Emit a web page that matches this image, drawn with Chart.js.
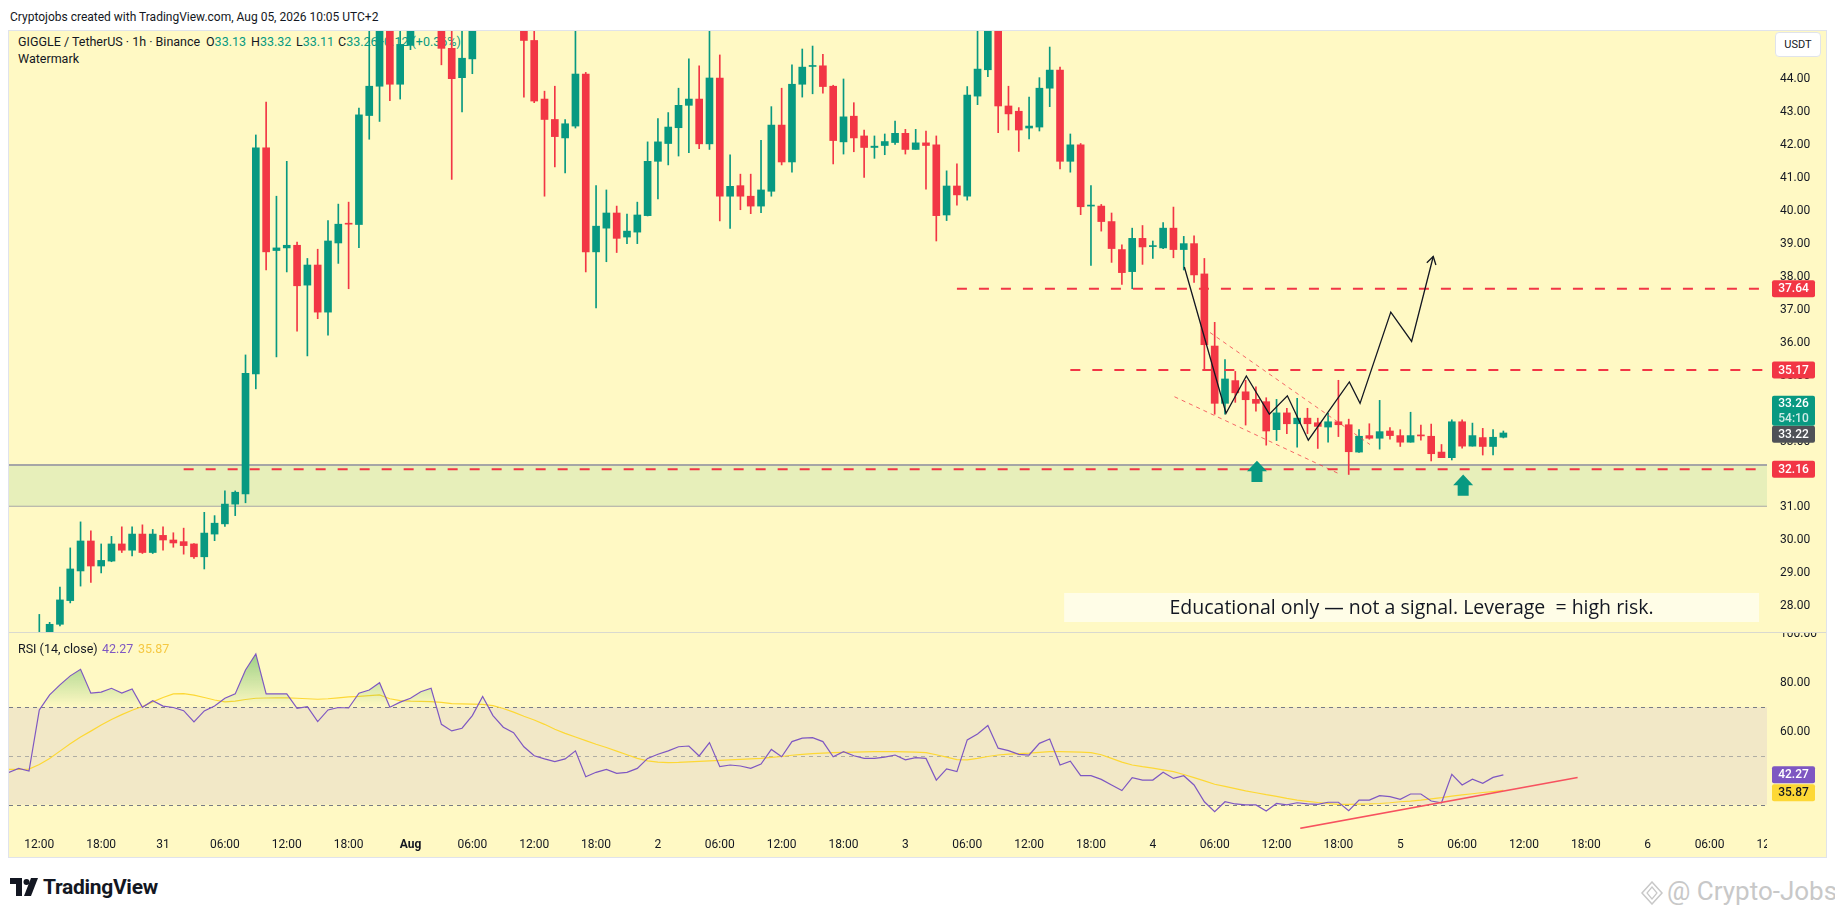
<!DOCTYPE html>
<html><head><meta charset="utf-8">
<script src="https://cdn.jsdelivr.net/npm/chart.js@4.4.1/dist/chart.umd.min.js"></script>
<style>
html,body{margin:0;padding:0;background:#fff;}
body{width:1835px;height:917px;position:relative;overflow:hidden;font-family:Roboto,"Noto Sans",sans-serif;color:#131722;}
#caption{position:absolute;left:10px;top:8px;font-size:12px;line-height:18px;white-space:nowrap;}
#frame{position:absolute;left:8px;top:30px;width:1817px;height:826px;background:#fff9c4;border:1px solid #e0e3eb;}
#c1{position:absolute;left:0;top:0;z-index:2;}
#sep{position:absolute;left:0;top:601px;width:1817px;height:1px;background:#d9d9cf;z-index:3;}
#c2{position:absolute;left:0;top:602px;z-index:2;}
.t{position:absolute;white-space:nowrap;font-size:12.5px;line-height:16px;z-index:1;}
.g{color:#089981;}
#usdt{position:absolute;left:1766px;top:1px;width:44px;height:23px;background:#fff;border:1px solid #e0e3eb;border-radius:4px;font-size:11px;line-height:23px;text-align:center;z-index:4;}
.r{position:absolute;top:610px;font-size:12.5px;line-height:16px;z-index:4;white-space:nowrap;}
#logo{position:absolute;left:10px;top:876px;}
#tvtext{position:absolute;left:43px;top:874px;font-size:21px;font-weight:bold;line-height:26px;letter-spacing:-0.3px;color:#131722;}
#wm{position:absolute;left:1667px;top:874px;font-size:26px;line-height:34px;color:#c8c8c8;white-space:nowrap;}
#wmicon{position:absolute;left:1640px;top:881px;}
</style></head>
<body>
<div id="caption">Cryptojobs created with TradingView.com, Aug 05, 2026 10:05 UTC+2</div>
<div id="frame">
  <div class="t" style="left:9px;top:3px;">GIGGLE / TetherUS · 1h · Binance</div>
  <div class="t" style="left:197px;top:3px;">O<span class="g">33.13</span></div>
  <div class="t" style="left:242px;top:3px;">H<span class="g">33.32</span></div>
  <div class="t" style="left:287px;top:3px;">L<span class="g">33.11</span></div>
  <div class="t" style="left:329px;top:3px;">C<span class="g">33.26</span></div>
  <div class="t g" style="left:368px;top:3px;">+0.12 (+0.36%)</div>
  <div class="t" style="left:9px;top:20px;">Watermark</div>
  <canvas id="c1" width="1817" height="601"></canvas>
  <div id="usdt">USDT</div>
  <div id="sep"></div>
  <canvas id="c2" width="1817" height="224"></canvas>
  <div class="r" style="left:9px;">RSI (14, close)</div>
  <div class="r" style="left:93px;color:#7e57c2">42.27</div>
  <div class="r" style="left:129px;color:#f5c842">35.87</div>
</div>
<svg id="logo" width="30" height="22" viewBox="0 0 30 22">
  <path d="M0 2h12v18H6V8H0z" fill="#131722"/>
  <circle cx="16.5" cy="6" r="3" fill="#131722"/>
  <path d="M21 2h7l-7 18h-7z" fill="#131722"/>
</svg>
<div id="tvtext">TradingView</div>
<svg id="wmicon" width="24" height="24" viewBox="0 0 24 24"><path d="M12 1L22 12L12 23L2 12Z" fill="none" stroke="#c8c8c8" stroke-width="1.5"/><path d="M12 6L17 12L12 18L7 12Z" fill="none" stroke="#c8c8c8" stroke-width="1.2"/></svg>
<div id="wm">@ Crypto-Jobs</div>

<script>
// ---------- DATA ----------
const FIRST_HOUR = -3; // index of first candle (hours from Jul 30 12:00)
const opens = [25.7,25.8,25.9,
 25.85,27.15,27.45,28.17,29.07,29.98,29.22,29.37,29.89,29.70,
 30.19,29.63,30.15,30.01,29.96,29.89,29.50,30.19,30.50,31.10,
 31.41,35.05,41.92,38.80,38.88,38.96,37.75,38.36,36.93,39.03,
 39.63,39.59,42.90,43.79,46.00,43.85,45.03,45.95,46.30,46.20,
 44.94,44.05,44.62,45.80,47.00,46.50,46.00,45.90,45.18,43.40,
 42.78,42.22,42.58,44.16,38.76,39.48,39.94,39.21,39.36,39.86,
 41.51,42.05,42.53,43.21,43.40,42.04,44.04,40.45,40.77,40.45,
 40.15,40.60,42.61,41.49,43.85,44.39,44.41,43.79,42.10,42.88,
 42.28,41.93,41.99,42.08,42.36,41.87,42.07,42.01,39.88,40.76,
 40.45,43.49,44.29,45.47,43.19,43.03,42.52,42.55,43.73,44.28,
 41.51,42.01,40.15,40.15,39.68,38.83,38.16,39.17,38.92,38.88,
 39.48,38.83,39.01,38.09,35.90,34.16,34.85,34.51,34.28,34.21,
 33.36,33.87,33.54,33.71,33.57,33.44,33.60,33.51,32.68,33.18,
 33.10,33.32,33.18,32.98,33.19,33.16,32.68,32.51,33.60,32.86,
 33.12,32.85,33.13];
const highs = [25.95,26.0,26.05,
 27.75,27.51,28.58,29.77,30.56,30.29,29.89,30.12,30.41,30.41,
 30.47,30.33,30.41,30.23,30.37,29.90,30.85,30.75,31.50,31.50,
 35.63,42.31,43.31,40.45,41.51,39.06,38.56,38.84,39.71,40.21,
 40.27,43.13,45.60,46.10,46.30,45.60,46.20,46.60,46.90,46.50,
 45.60,45.60,46.00,47.30,47.20,46.70,46.40,46.10,45.80,43.64,
 43.79,42.78,45.70,44.21,40.77,40.64,40.15,39.91,40.27,42.10,
 42.81,42.99,43.73,44.62,44.41,45.59,44.74,41.71,41.12,41.12,
 42.15,43.17,43.73,44.44,44.92,45.01,44.76,43.82,44.01,43.29,
 42.46,42.28,42.34,42.73,42.48,42.48,42.43,42.28,41.22,41.43,
 43.78,45.59,45.80,45.59,43.79,43.14,43.46,44.05,44.98,44.37,
 42.34,42.05,40.77,40.20,39.94,38.97,39.48,39.56,39.09,39.65,
 40.12,39.23,39.25,38.56,36.62,35.49,35.13,34.86,34.66,34.33,
 34.28,34.01,34.31,34.01,33.71,33.86,34.86,33.68,33.36,33.54,
 34.25,33.42,33.36,33.89,33.50,33.53,32.91,33.66,33.66,33.56,
 33.40,33.36,33.32];
const lows = [25.55,25.6,25.7,
 25.80,27.05,27.40,28.10,28.61,28.72,29.01,29.35,29.63,29.53,
 29.60,29.60,29.70,29.79,29.58,29.45,29.13,29.99,30.42,30.75,
 31.14,34.60,38.21,35.57,38.15,36.35,35.60,36.73,36.23,38.41,
 37.64,38.89,42.18,42.72,43.35,43.40,44.90,45.50,45.80,44.44,
 40.96,43.01,44.17,45.60,46.20,45.80,45.70,43.46,43.29,40.45,
 41.34,41.16,42.52,38.15,37.06,38.46,38.74,39.01,39.01,39.85,
 40.37,41.40,41.67,41.77,41.89,41.87,39.70,39.47,40.04,39.92,
 39.95,40.45,41.40,41.18,43.46,43.56,43.58,41.43,41.73,41.80,
 41.02,41.60,41.71,42.02,41.73,41.87,40.66,39.09,39.71,40.18,
 40.33,43.23,44.08,42.38,42.46,41.81,42.19,42.43,43.17,41.28,
 41.18,39.89,38.35,39.39,38.44,37.77,37.64,38.38,38.56,38.86,
 38.58,38.21,37.83,35.16,33.83,33.83,34.19,33.50,33.92,32.89,
 33.03,33.24,32.83,33.24,32.79,32.98,33.15,32.00,32.67,33.07,
 32.77,33.07,32.85,32.98,33.04,32.41,32.51,32.44,32.80,32.86,
 32.59,32.59,33.11];
const closes = [25.8,25.9,25.85,
 27.15,27.45,28.19,29.13,29.98,29.22,29.39,29.89,29.70,30.19,
 29.63,30.19,30.01,29.92,29.84,29.50,30.22,30.52,31.10,31.46,
 35.07,41.92,38.76,38.88,38.96,37.73,38.36,36.93,39.09,39.60,
 39.60,42.92,43.79,45.90,43.85,45.06,45.90,46.30,46.50,44.94,
 44.02,44.64,45.80,47.00,46.50,46.00,45.90,45.18,43.34,42.78,
 42.26,42.65,44.16,38.76,39.54,39.94,39.17,39.39,39.88,41.51,
 42.10,42.55,43.21,43.40,42.04,44.04,40.45,40.75,40.45,40.15,
 40.64,42.61,41.49,43.85,44.37,44.41,43.78,42.14,42.86,42.22,
 41.93,41.97,42.11,42.36,41.87,42.07,41.99,39.86,40.76,40.49,
 43.52,44.31,45.51,43.19,42.95,42.46,42.58,43.73,44.28,41.51,
 42.01,40.13,40.17,39.68,38.86,38.13,39.17,38.91,38.94,39.48,
 38.83,39.01,38.06,35.94,34.16,34.90,34.48,34.27,34.16,33.32,
 33.87,33.54,33.71,33.54,33.46,33.60,33.51,32.69,33.16,33.10,
 33.30,33.18,32.98,33.18,33.17,32.63,32.51,33.60,32.86,33.18,
 32.85,33.13,33.26];
const rsiValues = [43.2,44.9,43.8,
 68.9,75.1,79.2,82.9,85.6,75.8,76.2,77.8,75.8,77.5,
 70.0,72.7,70.5,69.9,68.6,64.0,68.5,70.5,73.7,75.5,
 85.3,91.9,75.5,75.5,75.5,69.6,70.3,64.1,68.9,69.9,
 69.7,75.8,77.1,80.1,70.0,72.1,73.7,76.4,77.8,63.0,
 60.3,61.4,66.6,74.4,66.6,61.8,59.6,53.8,50.1,48.8,
 47.7,48.8,52.1,41.5,43.3,44.5,42.9,43.3,44.9,49.0,
 50.7,52.1,53.8,54.1,50.0,55.5,45.6,46.3,45.9,44.9,
 46.7,52.7,49.7,55.9,57.3,57.5,55.9,49.7,51.8,50.1,
 49.0,49.0,49.5,50.4,48.4,49.3,49.0,40.1,44.7,43.6,
 56.6,59.0,62.5,53.2,52.2,50.7,50.4,55.2,57.0,46.3,
 47.9,41.9,41.9,40.4,38.1,35.8,41.1,40.1,40.1,43.3,
 40.8,41.9,38.1,31.2,27.1,31.2,30.3,29.9,29.9,27.4,
 30.5,29.9,30.8,30.3,30.1,31.0,31.0,27.5,31.9,31.9,
 33.7,33.3,32.2,34.4,34.4,31.5,30.8,42.5,38.1,40.5,
 38.8,41.2,42.27];
const rsiMaValues = [44.5,44.5,44.6,
 46.5,49.0,52.0,55.0,57.8,60.2,62.7,65.0,67.0,68.8,
 70.3,72.2,74.0,75.5,75.6,75.0,74.0,73.0,72.2,72.5,
 73.2,73.7,73.8,73.9,73.9,73.7,73.5,73.3,73.5,73.9,
 74.3,74.5,74.8,75.1,73.5,72.7,72.5,72.4,72.3,72.0,
 71.5,71.4,71.3,71.2,70.7,69.5,68.0,66.3,64.8,63.0,
 61.0,59.3,57.8,56.3,54.8,53.5,52.0,50.5,49.0,48.0,
 47.5,47.3,47.4,47.6,47.8,48.0,48.2,48.4,48.6,48.8,
 49.0,49.4,49.8,50.3,50.7,51.0,51.2,51.4,51.5,51.6,
 51.7,51.8,51.8,51.8,51.7,51.6,51.4,50.5,49.5,48.5,
 48.4,49.0,49.8,50.4,50.8,51.0,51.2,51.5,51.8,51.8,
 51.7,51.6,51.4,50.5,49.0,47.5,46.3,45.6,45.0,44.3,
 43.6,42.4,41.1,39.8,38.4,37.5,36.6,35.7,34.9,34.1,
 33.4,32.6,31.9,31.4,30.9,30.5,30.1,30.1,30.2,30.3,
 30.5,30.8,31.2,31.5,31.9,32.4,32.9,33.5,34.0,34.5,
 35.0,35.4,35.87];
const timeTickHours = [0,6,12,18,24,30,36,42,48,54,60,66,72,78,84,90,96,102,108,114,120,126,132,138,144,150,156,162,168];
const timeLabels = ['12:00','18:00','31','06:00','12:00','18:00','Aug','06:00','12:00','18:00','2','06:00','12:00','18:00','3','06:00','12:00','18:00','4','06:00','12:00','18:00','5','06:00','12:00','18:00','6','06:00','12:00'];
const priceTicks = [28,29,30,31,32,33,34,35,36,37,38,39,40,41,42,43,44];
const rsiTicks = [100,80,60];
// horizontal levels
const levelPrices = [37.64, 35.17, 32.16];
const levelStartHours = [89.0, 100.0, 14.0];
const zoneTop = 32.29, zoneBottom = 31.05;
// drawing: zigzag projection path
const pathHours = [111.06,115.1,117.07,119.3,121.05,123.08,127.06,128.1,131.08,133.1,135.2];
const pathPrices = [38.3,33.86,34.99,33.83,34.39,33.04,34.81,34.16,36.93,36.04,38.62];
// falling channel (dashed)
const channelUpperHours = [113.55,129.06], channelUpperPrices = [36.31,32.91];
const channelLowerHours = [110.1,126.0], channelLowerPrices = [34.36,32.03];
// green arrows
const arrowHours = [118.1,138.1], arrowTips = [32.42,32.0], arrowBases = [31.77,31.35];
// RSI trend line
const rsiTrendHours = [122.3,149.2], rsiTrendValues = [20.3,41.2];
// axis labels
const lastPrice = 33.26, prevPrice = 33.22, countdown = '54:10';
const rsiLast = 42.27, rsiMaLast = 35.87;
const noteText = 'Educational only \u2014 not a signal. Leverage  = high risk.';
const noteBox = {h0:99.4, h1:166.8, p0:28.40, p1:27.52, hc:133.1};

// ---------- LAYOUT CONSTANTS ----------
const X_MIN = -2.94, X_MAX = 167.57;
const P_MIN = 27.216, P_MAX = 45.467;
const R_MIN = 20.02, R_MAX = 100.5;
const UP = '#089981', DOWN = '#f23645';
const FONT = 'Roboto, "Noto Sans", sans-serif';
const AXIS_W = 59;

const hours = opens.map((_, k) => FIRST_HOUR + k);
const candleColors = opens.map((o, k) => closes[k] >= o ? UP : DOWN);

function labelBox(ctx, x, y, w, h, fill, lines, color) {
  ctx.fillStyle = fill;
  ctx.beginPath();
  if (ctx.roundRect) ctx.roundRect(x, y, w, h, 2); else ctx.rect(x, y, w, h);
  ctx.fill();
  ctx.fillStyle = color;
  ctx.textAlign = 'center'; ctx.textBaseline = 'middle';
  ctx.font = '500 12px ' + FONT;
  const lh = h / lines.length;
  lines.forEach((t, k) => {
    if (k > 0) { ctx.fillStyle = 'rgba(255,255,255,0.8)'; }
    ctx.fillText(t, x + w / 2, y + lh * k + lh / 2 + 0.5);
  });
}

const mainOverlay = {
  id: 'mainOverlay',
  afterDatasetsDraw(chart) {
    const {ctx, chartArea: a} = chart;
    const x = chart.scales.x, y = chart.scales.y;
    ctx.save();
    ctx.beginPath(); ctx.rect(a.left, a.top, a.width, a.height); ctx.clip();
    const n = pathHours.length;
    const ex = x.getPixelForValue(pathHours[n-1]), ey = y.getPixelForValue(pathPrices[n-1]);
    const sx = x.getPixelForValue(pathHours[n-2]), sy = y.getPixelForValue(pathPrices[n-2]);
    const ang = Math.atan2(ey - sy, ex - sx);
    ctx.strokeStyle = '#131722'; ctx.lineWidth = 1.3;
    ctx.beginPath();
    ctx.moveTo(ex - 9 * Math.cos(ang - 0.55), ey - 9 * Math.sin(ang - 0.55));
    ctx.lineTo(ex, ey);
    ctx.lineTo(ex - 9 * Math.cos(ang + 0.55), ey - 9 * Math.sin(ang + 0.55));
    ctx.stroke();
    ctx.fillStyle = UP;
    arrowHours.forEach((hv, k) => {
      const cx = x.getPixelForValue(hv), ty = y.getPixelForValue(arrowTips[k]), by = y.getPixelForValue(arrowBases[k]);
      const hh = (by - ty) * 0.5;
      ctx.beginPath();
      ctx.moveTo(cx, ty); ctx.lineTo(cx + 10, ty + hh); ctx.lineTo(cx + 5.5, ty + hh);
      ctx.lineTo(cx + 5.5, by); ctx.lineTo(cx - 5.5, by); ctx.lineTo(cx - 5.5, ty + hh);
      ctx.lineTo(cx - 10, ty + hh); ctx.closePath(); ctx.fill();
    });
    const bx0 = x.getPixelForValue(noteBox.h0), bx1 = x.getPixelForValue(noteBox.h1);
    const by0 = y.getPixelForValue(noteBox.p0), by1 = y.getPixelForValue(noteBox.p1);
    ctx.fillStyle = 'rgba(255,255,255,0.6)';
    ctx.fillRect(bx0, by0, bx1 - bx0, by1 - by0);
    ctx.fillStyle = '#131722';
    ctx.font = '19.5px "Open Sans", sans-serif';
    ctx.textAlign = 'center'; ctx.textBaseline = 'middle';
    ctx.fillText(noteText, x.getPixelForValue(noteBox.hc), (by0 + by1) / 2 + 1);
    ctx.restore();
  },
  afterDraw(chart) {
    const {ctx, chartArea: a} = chart;
    const y = chart.scales.y;
    const bx = a.right + 5, bw = 43, bh = 17;
    ctx.save();
    levelPrices.forEach(p => {
      const py = y.getPixelForValue(p);
      labelBox(ctx, bx, py - bh / 2, bw, bh, DOWN, [p.toFixed(2)], '#fff');
    });
    const dy = y.getPixelForValue(prevPrice);
    labelBox(ctx, bx, dy - bh / 2, bw, bh, '#4f5157', [prevPrice.toFixed(2)], '#fff');
    labelBox(ctx, bx, dy - bh / 2 - 30, bw, 30, UP, [lastPrice.toFixed(2), countdown], '#fff');
    ctx.restore();
  }
};

const rsiOverlay = {
  id: 'rsiOverlay',
  beforeDatasetsDraw(chart) {
    const {ctx, chartArea: a} = chart;
    const y = chart.scales.y;
    const y70 = y.getPixelForValue(70), y30 = y.getPixelForValue(30), y50 = y.getPixelForValue(50);
    ctx.save();
    ctx.fillStyle = '#f2e8c7';
    ctx.fillRect(a.left, y70, a.width, y30 - y70);
    ctx.lineWidth = 1;
    ctx.setLineDash([4, 4]);
    [[y70, '#787b86'], [y50, 'rgba(120,123,134,0.55)'], [y30, '#787b86']].forEach(([yy, c]) => {
      ctx.strokeStyle = c;
      ctx.beginPath(); ctx.moveTo(a.left, Math.round(yy) + 0.5); ctx.lineTo(a.right, Math.round(yy) + 0.5); ctx.stroke();
    });
    ctx.restore();
  },
  afterDraw(chart) {
    const {ctx, chartArea: a, width, height} = chart;
    const y = chart.scales.y;
    ctx.save();
    ctx.fillStyle = '#fff9c4';
    ctx.fillRect(a.right, a.bottom, width - a.right, height - a.bottom);
    const bx = a.right + 5, bw = 43, bh = 17;
    const py = y.getPixelForValue(rsiLast);
    labelBox(ctx, bx, py - bh / 2, bw, bh, '#7e57c2', [rsiLast.toFixed(2)], '#fff');
    labelBox(ctx, bx, py + bh / 2 + 1, bw, bh, '#fdd835', [rsiMaLast.toFixed(2)], '#131722');
    ctx.restore();
  }
};

function hLine(hStart, price, color, width, dash, order) {
  return {type: 'line', data: [{x: hStart, y: price}, {x: X_MAX, y: price}], borderColor: color,
    borderWidth: width, borderDash: dash, pointRadius: 0, fill: false, order: order};
}
function pts(hs, vs) { return hs.map((h, k) => ({x: h, y: vs[k]})); }

const yAxisCommon = (min, max, ticksArr) => ({
  position: 'right', min: min, max: max,
  grid: {display: false, drawTicks: false}, border: {display: false},
  afterBuildTicks: s => { s.ticks = ticksArr.map(v => ({value: v})); },
  afterFit: s => { s.width = AXIS_W; s.paddingTop = 0; s.paddingBottom = 0; },
  ticks: {padding: 13, color: '#131722', font: {size: 12, family: FONT}, callback: v => Number(v).toFixed(2)}
});

new Chart(document.getElementById('c1'), {
  type: 'bar',
  data: {
    datasets: [
      {type: 'line', data: [{x: X_MIN, y: zoneTop}, {x: X_MAX, y: zoneTop}], borderColor: '#a6a6a6', borderWidth: 2,
        pointRadius: 0, fill: '+1', backgroundColor: '#e7efba', order: 20},
      {type: 'line', data: [{x: X_MIN, y: zoneBottom}, {x: X_MAX, y: zoneBottom}], borderColor: '#a6a6a6', borderWidth: 2,
        pointRadius: 0, fill: false, order: 20},
      {type: 'bar', data: hours.map((h, k) => ({x: h, y: [lows[k], highs[k]]})), backgroundColor: candleColors,
        barThickness: 1, grouped: false, borderWidth: 0, order: 10},
      {type: 'bar', data: hours.map((h, k) => ({x: h, y: [opens[k], closes[k]]})), backgroundColor: candleColors,
        barThickness: 7, minBarLength: 1, grouped: false, borderWidth: 0, order: 9},
      ...levelPrices.map((p, k) => hLine(levelStartHours[k], p, '#f23645', 2, [10, 12], 5)),
      {type: 'line', data: pts(channelUpperHours, channelUpperPrices), borderColor: 'rgba(242,54,69,0.75)', borderWidth: 1,
        borderDash: [4, 4], pointRadius: 0, fill: false, order: 4},
      {type: 'line', data: pts(channelLowerHours, channelLowerPrices), borderColor: 'rgba(242,54,69,0.75)', borderWidth: 1,
        borderDash: [4, 4], pointRadius: 0, fill: false, order: 4},
      {type: 'line', data: pts(pathHours, pathPrices), borderColor: '#131722', borderWidth: 1.3, pointRadius: 0,
        fill: false, tension: 0, order: 1}
    ]
  },
  options: {
    responsive: false, animation: false, events: [],
    layout: {padding: 0},
    plugins: {legend: {display: false}, tooltip: {enabled: false}},
    scales: {
      x: {type: 'linear', min: X_MIN, max: X_MAX, display: false, offset: false},
      y: yAxisCommon(P_MIN, P_MAX, priceTicks)
    }
  },
  plugins: [mainOverlay]
});

new Chart(document.getElementById('c2'), {
  type: 'line',
  data: {
    datasets: [
      {data: pts(rsiTrendHours, rsiTrendValues), borderColor: '#f7525f', borderWidth: 1.6, pointRadius: 0, fill: false, order: 0},
      {data: pts(hours, rsiValues), borderColor: '#7e57c2', borderWidth: 1.2, pointRadius: 0, tension: 0,
        fill: {target: {value: 70}, below: 'rgba(0,0,0,0)'},
        backgroundColor: (c) => {
          const ch = c.chart;
          if (!ch.chartArea) return 'rgba(0,0,0,0)';
          const yy = ch.scales.y;
          const g = ch.ctx.createLinearGradient(0, yy.getPixelForValue(100), 0, yy.getPixelForValue(70));
          g.addColorStop(0, 'rgba(76,175,80,0.75)');
          g.addColorStop(1, 'rgba(76,175,80,0)');
          return g;
        }, order: 2},
      {data: pts(hours, rsiMaValues), borderColor: '#fdd835', borderWidth: 1.2, pointRadius: 0, tension: 0, fill: false, order: 3}
    ]
  },
  options: {
    responsive: false, animation: false, events: [],
    layout: {padding: 0},
    plugins: {legend: {display: false}, tooltip: {enabled: false}},
    scales: {
      x: {type: 'linear', min: X_MIN, max: X_MAX, position: 'bottom', offset: false,
        grid: {display: false, drawTicks: false}, border: {display: false},
        afterBuildTicks: s => { s.ticks = timeTickHours.map(v => ({value: v})); },
        afterFit: s => { s.height = 28; s.paddingLeft = 0; s.paddingRight = 0; },
        ticks: {autoSkip: false, maxRotation: 0, minRotation: 0, padding: 9, color: '#131722',
          font: c => ({size: 12, family: FONT, weight: timeLabels[c.index] === 'Aug' ? 'bold' : 'normal'}),
          callback: (v, idx) => timeLabels[idx]}
      },
      y: yAxisCommon(R_MIN, R_MAX, rsiTicks)
    }
  },
  plugins: [rsiOverlay]
});
</script>
</body></html>
